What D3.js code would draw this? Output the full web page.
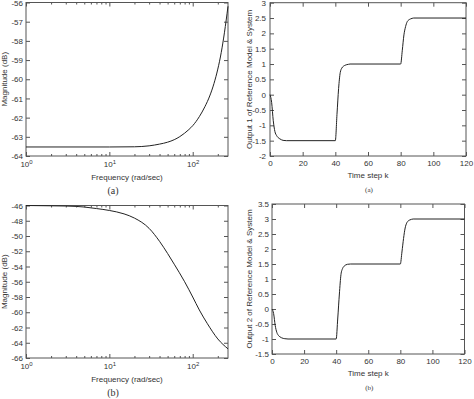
<!DOCTYPE html>
<html>
<head>
<meta charset="utf-8">
<script src="https://cdn.jsdelivr.net/npm/d3@7"></script>
<style>
    html, body { margin: 0; padding: 0; background: #fff; }
    svg { display: block; }
    text { font-family: "Liberation Sans", Arial, sans-serif; fill: #333; }
    .caption { font-family: "Liberation Serif", "Times New Roman", serif; }
</style>
</head>
<body>
<div id="container"></div>
<script>
// Bode magnitude, panel (a) left
const freqA = [1, 10, 20, 30, 40, 50, 60, 70, 80, 90, 100, 120, 140, 160, 180, 200, 220, 240, 265];
const magA = [-63.53, -63.53, -63.52, -63.47, -63.38, -63.28, -63.15, -62.99, -62.81, -62.62, -62.42, -61.95, -61.43, -60.87, -60.22, -59.47, -58.6, -57.58, -56.2];

// Bode magnitude, panel (b) left
const freqB = [1, 2, 3, 4, 5, 7, 10, 15, 20, 30, 40, 50, 60, 80, 100, 120, 150, 200, 265];
const magB = [-46.0, -46.04, -46.07, -46.12, -46.2, -46.4, -46.65, -47.1, -47.65, -49.0, -50.7, -52.3, -53.7, -56.0, -58.0, -59.7, -61.5, -63.5, -64.8];

// step responses, time step k
const stepK1 = [0, 1, 2, 3, 4, 5, 6, 7, 8, 10, 40, 41, 42, 43, 44, 45, 46, 47, 48, 49, 80, 81, 82, 83, 84, 85, 86, 87, 88, 120];
const output1 = [0, -0.25, -0.85, -1.2, -1.33, -1.4, -1.44, -1.47, -1.49, -1.5, -1.5, -0.65, 0.2, 0.72, 0.87, 0.93, 0.96, 0.98, 0.99, 1.0, 1.0, 1.45, 1.95, 2.22, 2.38, 2.44, 2.47, 2.49, 2.5, 2.5];
const stepK2 = [0, 1, 2, 3, 4, 5, 6, 7, 8, 10, 40, 41, 42, 43, 44, 45, 46, 47, 49, 80, 81, 82, 83, 84, 85, 86, 87, 88, 120];
const output2 = [0, -0.15, -0.55, -0.78, -0.88, -0.93, -0.96, -0.98, -0.99, -1.0, -1.0, -0.3, 0.5, 1.15, 1.35, 1.43, 1.47, 1.49, 1.5, 1.5, 1.9, 2.35, 2.7, 2.87, 2.94, 2.97, 2.99, 3.0, 3.0];

const logMajor = [1, 10, 100];
const logMinor = [2, 3, 4, 5, 6, 7, 8, 9, 20, 30, 40, 50, 60, 70, 80, 90, 200];
const magTicksA = d3.range(-64, -55, 1);
const magTicksB = d3.range(-66, -45, 2);
const kTicks = [0, 20, 40, 60, 80, 100, 120];
const outTicks1 = [-2, -1.5, -1, -0.5, 0, 0.5, 1, 1.5, 2, 2.5, 3];
const outTicks2 = [-1.5, -1, -0.5, 0, 0.5, 1, 1.5, 2, 2.5, 3, 3.5];

const width = 474;
const height = 399;
const axisColor = '#555';
const lineColor = '#222';

const svg = d3.select('#container').append('svg')
    .attr('width', width)
    .attr('height', height);

function numFmt(d) {
    return String(d);
}

function drawFrame(g, box) {
    g.append('rect')
        .attr('x', box.left)
        .attr('y', box.top)
        .attr('width', box.right - box.left)
        .attr('height', box.bottom - box.top)
        .attr('fill', 'none')
        .attr('stroke', axisColor)
        .attr('stroke-width', 1);
}

function styleAxis(sel) {
    sel.select('.domain').remove();
    sel.selectAll('line').attr('stroke', axisColor);
    sel.selectAll('text').attr('font-size', 8).attr('fill', '#333');
}

function drawYAxis(g, y, box, ticks, pad) {
    g.append('g')
        .attr('transform', `translate(${box.left},0)`)
        .call(d3.axisLeft(y).tickValues(ticks).tickSize(-4).tickPadding(pad).tickFormat(numFmt))
        .call(styleAxis);
    g.append('g')
        .attr('transform', `translate(${box.right},0)`)
        .call(d3.axisRight(y).tickValues(ticks).tickSize(-4).tickFormat(''))
        .call(styleAxis);
}

function drawLabels(g, box, xLabel, xLabelY, yLabel, yLabelX, caption, captionX, captionY, captionSize) {
    g.append('text')
        .attr('x', (box.left + box.right) / 2)
        .attr('y', xLabelY)
        .attr('text-anchor', 'middle')
        .attr('font-size', 8)
        .text(xLabel);
    g.append('text')
        .attr('transform', `translate(${yLabelX},${(box.top + box.bottom) / 2}) rotate(-90)`)
        .attr('text-anchor', 'middle')
        .attr('font-size', 8)
        .text(yLabel);
    g.append('text')
        .attr('class', 'caption')
        .attr('x', captionX)
        .attr('y', captionY)
        .attr('text-anchor', 'middle')
        .attr('font-size', captionSize)
        .text(caption);
}

function drawBode(box, freqs, mags, yDomain, yTicks, caption) {
    const g = svg.append('g');
    const x = d3.scaleLog().domain([1, 265]).range([box.left, box.right]);
    const y = d3.scaleLinear().domain(yDomain).range([box.bottom, box.top]);

    drawFrame(g, box);

    // major ticks with 10^n labels
    const bottomMajor = g.append('g')
        .attr('transform', `translate(0,${box.bottom})`)
        .call(d3.axisBottom(x).tickValues(logMajor).tickSize(-4).tickPadding(5).tickFormat(''))
        .call(styleAxis);
    bottomMajor.selectAll('.tick text')
        .each(function(d) {
            const t = d3.select(this);
            t.append('tspan').text('10');
            t.append('tspan')
                .attr('dy', '-0.45em')
                .attr('font-size', 6)
                .text(Math.round(Math.log10(d)));
        });
    g.append('g')
        .attr('transform', `translate(0,${box.bottom})`)
        .call(d3.axisBottom(x).tickValues(logMinor).tickSize(-2).tickFormat(''))
        .call(styleAxis);
    g.append('g')
        .attr('transform', `translate(0,${box.top})`)
        .call(d3.axisTop(x).tickValues(logMajor).tickSize(-4).tickFormat(''))
        .call(styleAxis);
    g.append('g')
        .attr('transform', `translate(0,${box.top})`)
        .call(d3.axisTop(x).tickValues(logMinor).tickSize(-2).tickFormat(''))
        .call(styleAxis);

    drawYAxis(g, y, box, yTicks, 3);

    const line = d3.line()
        .x((d, i) => x(freqs[i]))
        .y(d => y(d))
        .curve(d3.curveMonotoneX);

    g.append('path')
        .datum(mags)
        .attr('d', line)
        .attr('fill', 'none')
        .attr('stroke', lineColor)
        .attr('stroke-width', 1);

    drawLabels(g, box, 'Frequency (rad/sec)', box.bottom + 23.5, 'Magnitude (dB)', 6.5,
        caption, 113, box.bottom + 37.5, 10);
}

function drawStep(box, ks, outs, yDomain, yTicks, yLabel, caption, yPad) {
    const g = svg.append('g');
    const x = d3.scaleLinear().domain([0, 120]).range([box.left, box.right]);
    const y = d3.scaleLinear().domain(yDomain).range([box.bottom, box.top]);

    drawFrame(g, box);

    g.append('g')
        .attr('transform', `translate(0,${box.bottom})`)
        .call(d3.axisBottom(x).tickValues(kTicks).tickSize(-4).tickPadding(4).tickFormat(numFmt))
        .call(styleAxis);
    g.append('g')
        .attr('transform', `translate(0,${box.top})`)
        .call(d3.axisTop(x).tickValues(kTicks).tickSize(-4).tickFormat(''))
        .call(styleAxis);

    drawYAxis(g, y, box, yTicks, yPad);

    const line = d3.line()
        .x((d, i) => x(ks[i]))
        .y(d => y(d))
        .curve(d3.curveMonotoneX);

    g.append('path')
        .datum(outs)
        .attr('d', line)
        .attr('fill', 'none')
        .attr('stroke', lineColor)
        .attr('stroke-width', 1);

    drawLabels(g, box, 'Time step k', box.bottom + 22, yLabel, 251.5,
        caption, (box.left + box.right) / 2 + 1, box.bottom + 36, 7);
}

drawBode({ left: 26, right: 228, top: 2.5, bottom: 156 }, freqA, magA, [-64, -56], magTicksA, '(a)');
drawStep({ left: 270, right: 466, top: 2.7, bottom: 156 }, stepK1, output1, [-2, 3], outTicks1,
    'Output 1 of Reference Model & System', '(a)', 4);
drawBode({ left: 26, right: 228, top: 205.5, bottom: 358 }, freqB, magB, [-66, -46], magTicksB, '(b)');
drawStep({ left: 272, right: 464.5, top: 204, bottom: 354 }, stepK2, output2, [-1.5, 3.5], outTicks2,
    'Output 2 of Reference Model & System', '(b)', 3);
</script>
</body>
</html>
